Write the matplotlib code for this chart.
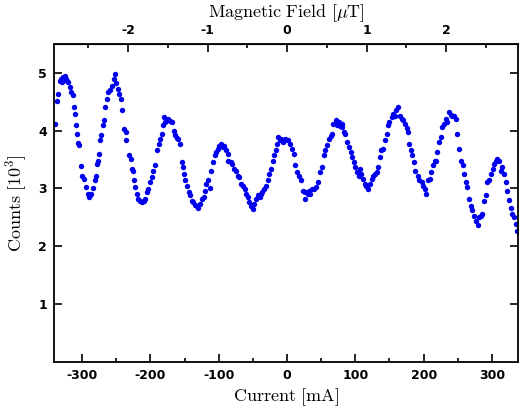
import numpy as np
import matplotlib
matplotlib.use("Agg")
import matplotlib.pyplot as plt
from matplotlib.ticker import MultipleLocator, FixedLocator

plt.rcParams['mathtext.fontset'] = 'cm'
plt.rcParams['axes.unicode_minus'] = False

current_ma = [
    -339, -336, -335, -333, -331, -330, -328, -327, -325, -324,
    -322, -320, -318, -316, -313, -312, -311, -309, -308, -306,
    -305, -302, -300, -297, -295, -292, -290, -288, -287, -284,
    -281, -280, -278, -277, -275, -274, -273, -270, -268, -267,
    -264, -262, -259, -256, -254, -252, -251, -248, -246, -243,
    -241, -239, -236, -235, -231, -229, -227,
    -226, -224, -222, -220, -218, -215, -212, -210, -208, -205,
    -203, -200, -198, -196, -193, -191, -188, -186, -183, -181,
    -180, -178, -176, -174, -171, -169, -166, -164, -161, -159,
    -157, -154, -153, -151, -149, -147, -144, -142, -139, -137,
    -134, -132, -130, -127, -125, -122, -120, -118, -115,
    -113, -111, -109, -106, -104, -101, -99, -97, -94, -92,
    -89, -87, -86, -82, -80, -77, -75, -72, -70, -67,
    -65, -62, -60, -57, -55, -53, -50, -48, -45, -43,
    -40, -38, -36, -33, -31, -28, -26, -23, -21, -19,
    -16, -15, -13, -11, -9, -6, -3,
    0, 2, 5, 7, 10, 12, 15, 17, 20, 23,
    26, 27, 30, 32, 34, 37, 39, 42, 45, 49,
    51, 54, 56, 59, 61, 64, 66, 68, 71, 73,
    76, 78, 80, 81, 83, 85, 88, 90, 93, 95,
    98, 100, 103, 105,
    107, 109, 111, 114, 116, 119, 121, 124, 126, 129,
    131, 133, 136, 138, 141, 143, 146, 148, 150, 153,
    155, 158, 160, 162, 165, 168, 170, 173, 175, 177,
    178, 181, 183, 186, 188, 191, 193, 197, 199, 202,
    204, 206, 209, 211, 214,
    216, 218, 220, 222, 225, 227, 230, 232, 234, 237,
    240, 242, 245, 247, 249, 252, 254, 257, 259, 262,
    264, 266, 269, 271, 274, 276, 279, 281, 284, 286,
    288, 291, 293, 296, 298, 301, 303, 306, 308, 310,
    313, 315, 318, 320, 322, 325, 328, 330, 332, 335,
    337,
]
counts_k = [
    4.12, 4.52, 4.64, 4.86, 4.90, 4.84, 4.93, 4.88, 4.95, 4.90,
    4.86, 4.84, 4.75, 4.67, 4.61, 4.41, 4.29, 4.09, 3.95, 3.78,
    3.75, 3.38, 3.22, 3.17, 3.02, 2.91, 2.85, 2.88, 2.91, 3.00,
    3.14, 3.22, 3.43, 3.48, 3.60, 3.83, 3.92, 4.09, 4.18, 4.41,
    4.55, 4.67, 4.70, 4.78, 4.90, 4.98, 4.82, 4.72, 4.64, 4.55,
    4.35, 4.03, 3.97, 3.83, 3.57, 3.51, 3.34,
    3.31, 3.14, 3.02, 2.91, 2.82, 2.79, 2.76, 2.79, 2.82, 2.93,
    2.99, 3.11, 3.19, 3.31, 3.40, 3.66, 3.77, 3.85, 3.95, 4.09,
    4.23, 4.15, 4.18, 4.21, 4.17, 4.15, 4.00, 3.92, 3.88, 3.86,
    3.77, 3.45, 3.37, 3.25, 3.14, 3.05, 2.93, 2.88, 2.79, 2.76,
    2.72, 2.70, 2.67, 2.73, 2.82, 2.85, 2.96, 3.08, 3.14,
    3.00, 3.31, 3.45, 3.57, 3.63, 3.69, 3.74, 3.77, 3.71, 3.74,
    3.66, 3.60, 3.48, 3.45, 3.43, 3.34, 3.31, 3.22, 3.19, 3.08,
    3.04, 2.99, 2.91, 2.85, 2.76, 2.70, 2.65, 2.73, 2.82, 2.88,
    2.85, 2.91, 2.93, 2.99, 3.05, 3.14, 3.25, 3.34, 3.48, 3.57,
    3.66, 3.77, 3.89, 3.83, 3.86, 3.80, 3.86,
    3.83, 3.84, 3.77, 3.69, 3.60, 3.40, 3.28, 3.22, 3.14, 2.96,
    2.93, 2.82, 2.90, 2.96, 2.91, 2.99, 2.99, 3.02, 3.11, 3.28,
    3.37, 3.57, 3.66, 3.75, 3.86, 3.90, 3.95, 4.12, 4.18, 4.10,
    4.15, 4.08, 4.12, 4.06, 3.97, 3.94, 3.80, 3.71, 3.63, 3.54,
    3.45, 3.37, 3.28, 3.22,
    3.34, 3.25, 3.17, 3.08, 3.05, 2.99, 3.08, 3.17, 3.22, 3.25,
    3.28, 3.37, 3.54, 3.66, 3.68, 3.83, 3.95, 4.09, 4.15, 4.23,
    4.29, 4.26, 4.35, 4.41, 4.26, 4.21, 4.18, 4.12, 4.05, 3.97,
    3.77, 3.66, 3.57, 3.45, 3.31, 3.22, 3.14, 3.11, 3.05, 2.99,
    2.91, 3.14, 3.17, 3.28, 3.40,
    3.48, 3.48, 3.63, 3.80, 3.89, 4.06, 4.12, 4.20, 4.15, 4.32,
    4.27, 4.26, 4.25, 4.21, 3.95, 3.69, 3.48, 3.40, 3.25, 3.11,
    3.02, 2.82, 2.70, 2.62, 2.53, 2.44, 2.36, 2.50, 2.52, 2.56,
    2.79, 2.88, 3.11, 3.14, 3.25, 3.34, 3.43, 3.47, 3.51, 3.48,
    3.31, 3.37, 3.25, 3.11, 2.96, 2.80, 2.67, 2.56, 2.50, 2.38,
    2.27,
]
field_ticks = [-2, -1, 0, 1, 2]
field_minor = [-2.5, -1.5, -0.5, 0.5, 1.5, 2.5]

# mA per microtesla for the top axis
MA_PER_UT = 116.4

fig = plt.figure(figsize=(5.2, 4.07), dpi=100)
ax = fig.add_axes([0.104, 0.111, 0.892, 0.781])

ax.plot(current_ma, counts_k, 'o', color='#0000ee', ms=3.9, mec='none')

ax.set_xlim(-341, 338)
ax.set_ylim(0, 5.5)
ax.xaxis.set_major_locator(MultipleLocator(100))
ax.xaxis.set_minor_locator(MultipleLocator(50))
ax.set_yticks([1, 2, 3, 4, 5])

ax.tick_params(which='both', direction='in', top=False, right=True,
               width=1.2, labelsize=9, pad=5)
ax.tick_params(which='major', length=6)
ax.tick_params(which='minor', length=3)
ax.tick_params(axis='y', which='minor', left=False, right=False)
for lab in ax.get_xticklabels() + ax.get_yticklabels():
    lab.set_fontweight('bold')
for sp in ax.spines.values():
    sp.set_linewidth(1.3)

ax.set_xlabel(r'$\mathrm{Current\ [mA]}$', fontsize=13, labelpad=3)
ax.set_ylabel(r'$\mathrm{Counts\ [10^3]}$', fontsize=13, labelpad=7)

secax = ax.secondary_xaxis('top', functions=(lambda i: i / MA_PER_UT,
                                             lambda b: b * MA_PER_UT))
secax.xaxis.set_major_locator(FixedLocator(field_ticks))
secax.xaxis.set_minor_locator(FixedLocator(field_minor))
secax.tick_params(which='both', direction='in', width=1.2, labelsize=9, pad=5)
secax.tick_params(which='major', length=6)
secax.tick_params(which='minor', length=3)
for lab in secax.get_xticklabels():
    lab.set_fontweight('bold')
secax.set_xlabel(r'$\mathrm{Magnetic\ Field\ [}\mu\mathrm{T]}$', fontsize=13, labelpad=5)

fig.savefig('out.png', dpi=100)
